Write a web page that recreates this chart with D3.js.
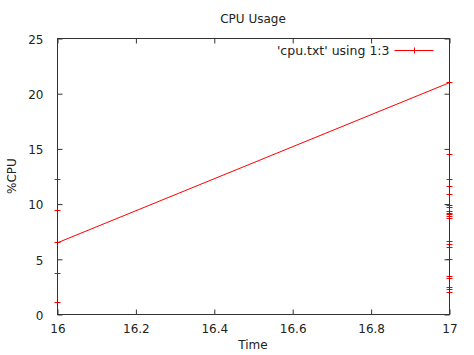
<!DOCTYPE html>
<html>
<head>
<meta charset="utf-8">
<script src="https://cdn.jsdelivr.net/npm/d3@7"></script>
<style>
  html, body { margin: 0; padding: 0; background: #ffffff; }
  svg { display: block; font-family: "DejaVu Sans", sans-serif; }
</style>
</head>
<body>
<div id="chart"></div>
<script>
// samples, in file order (x = column 1, y = column 3)
const times = [16, 16, 16, 16, 16,
  17, 17, 17, 17, 17, 17, 17, 17, 17, 17, 17, 17, 17, 17, 17, 17, 17, 17, 17, 17, 17];
const cpu = [1.1, 3.7, 12.2, 9.4, 6.5,
  21.0, 14.45, 12.2, 11.6, 10.9, 9.9, 9.65, 9.3, 9.15, 9.05, 8.9, 8.7,
  6.6, 6.35, 6.1, 5.0, 3.4, 3.25, 2.45, 2.25, 2.0];
const xTicks = [16, 16.2, 16.4, 16.6, 16.8, 17];
const yTicks = [0, 5, 10, 15, 20, 25];
const title = 'CPU Usage';
const legendLabel = "'cpu.txt' using 1:3";

const width = 474, height = 355;
const margin = { top: 38, right: 25, bottom: 41, left: 57 };
const plotW = width - margin.left - margin.right;
const plotH = height - margin.top - margin.bottom;
const ink = '#333333';
const red = '#ff0000';
const tickLen = 5;

const points = times.map((t, i) => ({ x: t, y: cpu[i] }));

const x = d3.scaleLinear().domain([16, 17]).range([0, plotW]);
const y = d3.scaleLinear().domain([0, 25]).range([plotH, 0]);

const svg = d3.select('#chart').append('svg')
  .attr('width', width)
  .attr('height', height);

svg.append('text')
  .attr('x', margin.left + plotW / 2)
  .attr('y', 23)
  .attr('text-anchor', 'middle')
  .attr('font-size', 12)
  .attr('fill', '#222')
  .text(title);

// half-pixel offset keeps the frame crisp so it sits on top of the data line
const g = svg.append('g').attr('transform', `translate(${margin.left + 0.5},${margin.top + 0.5})`);

// data line + '+' markers
g.append('path')
  .datum(points)
  .attr('fill', 'none')
  .attr('stroke', red)
  .attr('stroke-width', 1)
  .attr('d', d3.line().x(d => x(d.x)).y(d => y(d.y)));

const plus = (sel, s) => sel.append('path')
  .attr('fill', 'none')
  .attr('stroke', red)
  .attr('stroke-width', 1)
  .attr('d', `M${-s},0H${s}M0,${-s}V${s}`);

g.selectAll('g.pt')
  .data(points)
  .join('g')
  .attr('class', 'pt')
  .attr('transform', d => `translate(${x(d.x)},${Math.round(y(d.y))})`)
  .each(function () { plus(d3.select(this), 3); });

// axes (gnuplot style: ticks inward, mirrored)
const fmtX = d => String(+d.toFixed(1));

const axLeft = g.append('g')
  .call(d3.axisLeft(y).tickValues(yTicks).tickSize(-tickLen).tickPadding(tickLen + 9).tickFormat(d3.format('d')));
const axRight = g.append('g').attr('transform', `translate(${plotW},0)`)
  .call(d3.axisRight(y).tickValues(yTicks).tickSize(-tickLen).tickFormat(''));
const axBottom = g.append('g').attr('transform', `translate(0,${plotH})`)
  .call(d3.axisBottom(x).tickValues(xTicks).tickSize(-tickLen).tickPadding(tickLen + 5).tickFormat(fmtX));
const axTop = g.append('g')
  .call(d3.axisTop(x).tickValues(xTicks).tickSize(-tickLen).tickFormat(''));

[axLeft, axRight, axBottom, axTop].forEach(a => {
  a.select('.domain').remove();
  a.selectAll('line').attr('stroke', ink);
  a.selectAll('text').attr('fill', '#222').attr('font-size', 12).attr('font-family', '"DejaVu Sans", sans-serif');
});
axLeft.selectAll('text').attr('dy', '0.4em');

g.append('rect')
  .attr('x', 0).attr('y', 0)
  .attr('width', plotW).attr('height', plotH)
  .attr('fill', 'none')
  .attr('stroke', ink)
  .attr('stroke-width', 1);

// legend, top right inside the frame
const lg = g.append('g').attr('transform', `translate(${plotW},12)`);
lg.append('text')
  .attr('x', -60)
  .attr('y', 0)
  .attr('dy', '0.35em')
  .attr('text-anchor', 'end')
  .attr('font-size', 12.5)
  .attr('fill', '#222')
  .text(legendLabel);
lg.append('line')
  .attr('x1', -55).attr('x2', -16)
  .attr('stroke', red).attr('stroke-width', 1);
lg.append('g').attr('transform', 'translate(-35,0)').call(s => plus(s, 3));

// axis titles
svg.append('text')
  .attr('x', margin.left + plotW / 2)
  .attr('y', 349)
  .attr('text-anchor', 'middle')
  .attr('font-size', 12)
  .attr('fill', '#222')
  .text('Time');
svg.append('text')
  .attr('transform', `translate(16,${margin.top + plotH / 2}) rotate(-90)`)
  .attr('text-anchor', 'middle')
  .attr('font-size', 12)
  .attr('fill', '#222')
  .text('%CPU');
</script>
</body>
</html>
